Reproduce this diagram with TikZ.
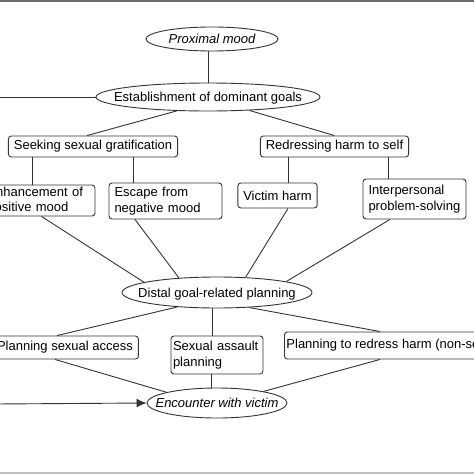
\documentclass[tikz,border=0pt]{standalone}
\usepackage{fontspec}
\setmainfont{Liberation Sans}
\usetikzlibrary{shapes.geometric,arrows.meta}
\definecolor{edgegray}{HTML}{333333}
\definecolor{topbar}{HTML}{6A6A6A}
\definecolor{footbar}{HTML}{C0C0C0}
\newcommand{\ovtext}[1]{\makebox[0pt]{#1}}

\begin{document}
\begin{tikzpicture}[x=1pt,y=-1pt,line width=0.9pt,
  font=\fontsize{13}{15.5}\selectfont,
  stage/.style={ellipse,draw=edgegray,inner sep=0pt,text height=9.3pt,text depth=0pt},
  phase/.style={rectangle,rounded corners=3pt,draw=edgegray,inner xsep=5.5pt,inner ysep=0pt,align=left}]
\useasboundingbox (0,0) rectangle (474,474);
\clip (0,0) rectangle (474,474);
\fill[topbar](0,0) rectangle (474,2);
\fill[footbar](0,472) rectangle (474,474);
% ellipses and boxes
\node[stage,minimum width=132pt,minimum height=24pt] (mood) at (212,39) {\ovtext{\itshape Proximal mood}};
\node[stage,minimum width=224pt,minimum height=28pt] (goals) at (208,97) {\ovtext{Establishment of dominant goals}};
\node[phase,minimum width=168pt,minimum height=21pt] (seek) at (93,146.5) {Seeking sexual gratification};
\node[phase,minimum width=145pt,minimum height=21pt] (redress) at (334.5,146.5) {Redressing harm to self};
\node[phase,text width=102pt,minimum height=31pt] (enh) at (38.5,200.5) {Enhancement of\\positive mood};
\node[phase,text width=102pt,minimum height=36pt] (esc) at (165.5,201) {Escape from\\negative mood};
\node[phase,minimum width=75pt,minimum height=25pt] (victim) at (277.5,195.5) {Victim harm};
\node[phase,text width=92pt,minimum height=40pt] (inter) at (414.5,199) {Interpersonal\\problem-solving};
\node[stage,minimum width=190pt,minimum height=31pt] (distal) at (217,292.5) {\ovtext{Distal goal-related planning}};
\node[phase,minimum width=142pt,minimum height=23pt] (access) at (65,347.5) {Planning sexual access};
\node[phase,text width=88pt,inner xsep=2pt,minimum height=38pt] (assault) at (217,355) {\mbox{Sexual assault}\\planning};
\node[phase,anchor=west,inner xsep=2pt,minimum height=27pt] (redressplan) at (284,345.5) {Planning to redress harm (non-sexual)};
\node[stage,minimum width=140pt,minimum height=30pt] (meet) at (217,403) {\ovtext{\itshape Encounter with victim}};
\coordinate (back) at (-5,97);
\coordinate (entry) at (-5,404);
% connectors
\draw[edgegray](goals.north)--(goals.north |- mood.south);
\draw[edgegray](back)--(goals.west);
\draw[edgegray](goals.204)--([xshift=-6pt]seek.north);
\draw[edgegray](goals.342)--(redress.north);
\draw[edgegray]([xshift=-61pt]seek.south)--([xshift=-61pt]seek.south |- enh.north);
\draw[edgegray]([xshift=40pt]seek.south)--([xshift=40pt]seek.south |- esc.north);
\draw[edgegray]([xshift=-46.5pt]redress.south)--([xshift=-46.5pt]redress.south |- victim.north);
\draw[edgegray]([xshift=53.5pt]redress.south)--([xshift=53.5pt]redress.south |- inter.north);
\draw[edgegray]([xshift=3pt]enh.south)--(distal.172);
\draw[edgegray]([xshift=-30.5pt]esc.south)--(distal.159);
\draw[edgegray]([xshift=10.5pt]victim.south)--(distal.28);
\draw[edgegray]([xshift=-24.5pt]inter.south)--(distal.9);
\draw[edgegray](distal.200)--([xshift=-8pt]access.north);
\draw[edgegray]([xshift=-5pt]distal.south)--([xshift=-5pt]distal.south |- assault.north);
\draw[edgegray](distal.335)--([xshift=96pt]redressplan.north west);
\draw[edgegray]([xshift=-10pt]access.south)--(meet.168);
\draw[edgegray]([xshift=-6pt]assault.south)--([xshift=-6pt]assault.south |- meet.north);
\draw[edgegray]([xshift=96pt]redressplan.south west)--(meet.14);
\draw[edgegray,-{Latex[length=10pt,width=9pt]}](entry)--(meet.west);
\end{tikzpicture}
\end{document}
